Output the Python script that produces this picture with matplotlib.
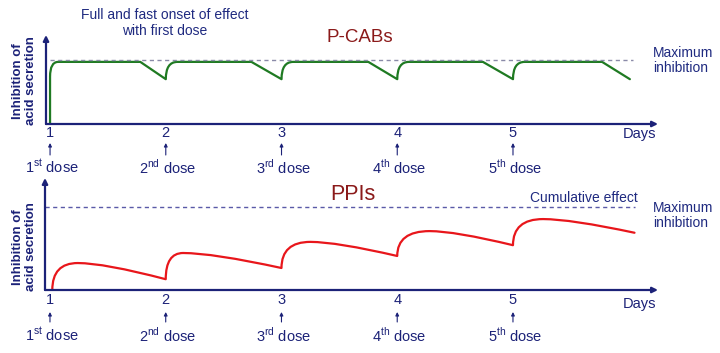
"""Schematic: acid inhibition over repeated dosing, P-CABs vs PPIs."""

import matplotlib

matplotlib.use("Agg")
import matplotlib.pyplot as plt
from matplotlib.patches import PathPatch
from matplotlib.path import Path

plt.rcParams["font.family"] = ["Liberation Sans", "DejaVu Sans"]
plt.rcParams["mathtext.fontset"] = "custom"
plt.rcParams["mathtext.rm"] = "Liberation Sans"

W, H = 720, 353
NAVY = "#1c2278"
TEXT_NAVY = "#1f2a80"
GREEN = "#1f7a22"
RED = "#e8161b"
MAROON = "#8b1a1a"

# ---- data (days on x, % of maximum inhibition on y) ----
DOSE_DAYS = [1, 2, 3, 4, 5]
DOSE_LABELS = [
    r"1$^{\mathrm{st}}$ dose",
    r"2$^{\mathrm{nd}}$ dose",
    r"3$^{\mathrm{rd}}$ dose",
    r"4$^{\mathrm{th}}$ dose",
    r"5$^{\mathrm{th}}$ dose",
]
MAX_LEVEL = 100

# P-CABs: plateau, then fall before the next dose
PCAB_PLATEAU = 97
PCAB_TROUGH = 70
PCAB_FALL_START = [1.78, 2.74, 3.75, 4.74, 5.77]
PCAB_FALL_END = [2.0, 3.0, 4.0, 5.0, 6.01]

# PPIs: rising peaks and troughs
PPI_TROUGH_X = [1.02, 2.0, 3.0, 4.0, 5.0]
PPI_TROUGH_Y = [0, 13, 26.5, 41, 54]
PPI_PEAK_X = [1.24, 2.15, 3.25, 4.28, 5.26]
PPI_PEAK_Y = [32.5, 44.6, 58, 71, 85.5]
PPI_END_X = 6.05
PPI_END_Y = 69


def box(left, top, right, bottom):
    return [left / W, 1 - bottom / H, (right - left) / W, (bottom - top) / H]


def pcab_path():
    verts = [(DOSE_DAYS[0], 0), (DOSE_DAYS[0], 74),
             (DOSE_DAYS[0], PCAB_PLATEAU), (DOSE_DAYS[0] + 0.07, PCAB_PLATEAU)]
    codes = [Path.MOVETO, Path.LINETO, Path.CURVE3, Path.CURVE3]
    for i, (fs, fe) in enumerate(zip(PCAB_FALL_START, PCAB_FALL_END)):
        verts += [(fs, PCAB_PLATEAU), (fe, PCAB_TROUGH)]
        codes += [Path.LINETO, Path.LINETO]
        if i < len(PCAB_FALL_END) - 1:
            verts += [(fe, PCAB_PLATEAU), (fe + 0.1, PCAB_PLATEAU)]
            codes += [Path.CURVE3, Path.CURVE3]
    return Path(verts, codes)


def ppi_path():
    verts = [(PPI_TROUGH_X[0], PPI_TROUGH_Y[0])]
    codes = [Path.MOVETO]
    next_x = PPI_TROUGH_X[1:] + [PPI_END_X]
    next_y = PPI_TROUGH_Y[1:] + [PPI_END_Y]
    for tx, px, py, nx, ny in zip(PPI_TROUGH_X, PPI_PEAK_X, PPI_PEAK_Y, next_x, next_y):
        # steep rise after the dose, flattening into the peak
        verts += [(tx, py), (px, py)]
        codes += [Path.CURVE3, Path.CURVE3]
        # slow decay towards the next dose
        verts += [(px + 0.3 * (nx - px), py), (nx, ny)]
        codes += [Path.CURVE3, Path.CURVE3]
    return Path(verts, codes)


def draw_frame(ax, ylabel_y, num_y, arrow_top, arrow_bot, dose_y, days_y):
    ax.set_axis_off()
    arrow = dict(arrowstyle="-|>", color=NAVY, lw=1.6, mutation_scale=8,
                 shrinkA=0, shrinkB=0)
    ax.annotate("", xy=(1, 0), xytext=(0, 0), xycoords="axes fraction",
                arrowprops=arrow)
    ax.annotate("", xy=(0, 1), xytext=(0, 0), xycoords="axes fraction",
                arrowprops=arrow)
    for d, lab in zip(DOSE_DAYS, DOSE_LABELS):
        ax.annotate(str(d), xy=(d, H - num_y), xycoords=("data", "figure pixels"),
                    ha="center", va="center", fontsize=10.5, color=NAVY)
        ax.annotate("", xy=(d, H - arrow_top), xytext=(d, H - arrow_bot),
                    xycoords=("data", "figure pixels"),
                    arrowprops=dict(arrowstyle="-|>", color=NAVY, lw=0.8,
                                    mutation_scale=5, shrinkA=0, shrinkB=0))
        ax.annotate(lab, xy=(d + 0.02, H - dose_y), xycoords=("data", "figure pixels"),
                    ha="center", va="center", fontsize=10.5, color=NAVY)
    fig.text(639 / W, 1 - days_y / H, "Days", ha="center", va="center",
             fontsize=10.5, color=NAVY)
    fig.text(24.5 / W, 1 - ylabel_y / H, "Inhibition of\nacid secretion",
             rotation=90, ha="center", va="center", fontsize=9.5,
             fontweight="bold", color=NAVY, linespacing=1.2)


fig = plt.figure(figsize=(W / 100, H / 100), dpi=100)

# ---- P-CABs ----
ax_top = fig.add_axes(box(46, 35, 658, 124))
ax_top.set_xlim(0.965, 6.253)
ax_top.set_ylim(0, 139)
draw_frame(ax_top, 81, 133, 143, 155, 167.5, 134)
ax_top.plot([1.0, 6.04], [MAX_LEVEL, MAX_LEVEL], color="#8a8aa8", lw=1.0,
            dashes=(3, 2.5))
ax_top.add_patch(PathPatch(pcab_path(), fill=False, edgecolor=GREEN, lw=1.6,
                           joinstyle="round", capstyle="round"))
fig.text(165 / W, 1 - 23 / H, "Full and fast onset of effect\nwith first dose",
         ha="center", va="center", fontsize=10, color=TEXT_NAVY, linespacing=1.15)
fig.text(360 / W, 1 - 38 / H, "P-CABs", ha="center", va="center",
         fontsize=13.5, color=MAROON)
fig.text(653 / W, 1 - 60.5 / H, "Maximum\ninhibition", ha="left", va="center",
         fontsize=10, color=TEXT_NAVY, linespacing=1.1)

# ---- PPIs ----
ax_bot = fig.add_axes(box(45, 178, 658, 290))
ax_bot.set_xlim(0.957, 6.253)
ax_bot.set_ylim(0, 135)
draw_frame(ax_bot, 247, 300, 312, 322, 335, 304)
ax_bot.plot([0.957, 6.05], [MAX_LEVEL, MAX_LEVEL], color="#5a5aa8", lw=1.0,
            dashes=(3, 2.5))
ax_bot.add_patch(PathPatch(ppi_path(), fill=False, edgecolor=RED, lw=1.6,
                           joinstyle="round", capstyle="round"))
fig.text(352.5 / W, 1 - 195 / H, "PPIs", ha="center", va="center",
         fontsize=15.5, color=MAROON)
fig.text(583.5 / W, 1 - 197.5 / H, "Cumulative effect", ha="center", va="center",
         fontsize=10, color=TEXT_NAVY)
fig.text(653 / W, 1 - 215.5 / H, "Maximum\ninhibition", ha="left", va="center",
         fontsize=10, color=TEXT_NAVY, linespacing=1.1)

fig.savefig("out.png", dpi=100)
plt.close(fig)
